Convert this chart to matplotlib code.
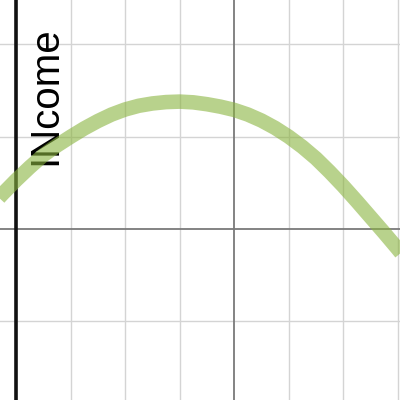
import matplotlib.pyplot as plt

# curve values (one grid step = 1 unit)
curve_x = [-4.5, -4.25, -4.0, -3.75, -3.5, -3.25, -3.0, -2.75, -2.5,
           -2.25, -2.0, -1.75, -1.5, -1.25, -1.0, -0.75, -0.5, -0.25,
           0.0, 0.25, 0.5, 0.75, 1.0, 1.25, 1.5, 1.75, 2.0, 2.25, 2.5,
           2.75, 3.0, 3.25, 3.5]
curve_y = [0.22, 0.38, 0.53, 0.67, 0.80, 0.905, 1.0, 1.09, 1.17,
           1.24, 1.295, 1.335, 1.36, 1.375, 1.38, 1.372, 1.352, 1.325,
           1.29, 1.24, 1.175, 1.095, 1.0, 0.89, 0.765, 0.62, 0.465, 0.30, 0.13,
           -0.04, -0.215, -0.395, -0.58]

grid_x = [-4, -3, -2, -1, 1, 2, 3]
grid_y = [-1, 1, 2]
marker_x = -4
label_text = "INcome"


def main() -> None:
    fig = plt.figure(figsize=(4, 4), dpi=100)
    ax = fig.add_axes([0, 0, 1, 1])

    ax.set_xlim(-4.297, 3.042)
    ax.set_ylim(-1.853, 2.481)

    for gx in grid_x:
        ax.axvline(gx, color="#d4d4d4", linewidth=1.0, zorder=0)
    for gy in grid_y:
        ax.axhline(gy, color="#d4d4d4", linewidth=1.0, zorder=0)

    ax.axvline(0, color="#7a7a7a", linewidth=1.3, zorder=1)
    ax.axhline(0, color="#7a7a7a", linewidth=1.3, zorder=1)

    ax.axvline(marker_x, color="#111111", linewidth=2.6, zorder=2)

    ax.text(
        0.16, 0.762, label_text,
        transform=ax.transAxes,
        rotation=90,
        ha="right",
        va="center",
        fontsize=29,
        family="Liberation Sans",
        color="black",
        zorder=3,
    )

    ax.plot(
        curve_x, curve_y,
        color="#8ab43f",
        alpha=0.6,
        linewidth=10.5,
        solid_capstyle="butt",
        solid_joinstyle="round",
        zorder=4,
    )

    ax.axis("off")
    fig.savefig("out.png", dpi=100)
    plt.close(fig)


if __name__ == "__main__":
    main()
